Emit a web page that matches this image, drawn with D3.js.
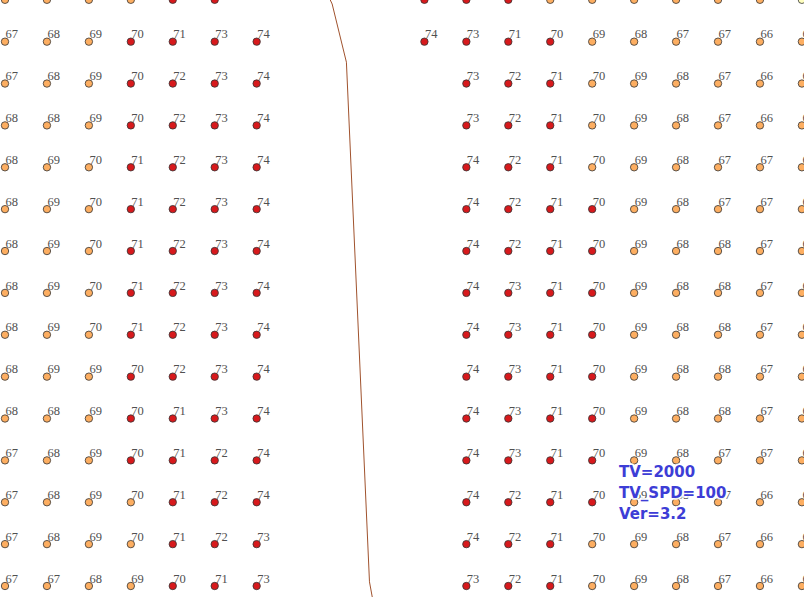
<!DOCTYPE html>
<html>
<head>
<meta charset="utf-8">
<script src="https://cdn.jsdelivr.net/npm/d3@7"></script>
<style>
  html, body { margin: 0; padding: 0; background: #fff; overflow: hidden; }
  svg { display: block; }
</style>
</head>
<body>
<div id="map"></div>
<script>
// grid values, one array per row; null = no station
// left block: columns 0..6
const leftRows = [
  [67, 68, 69, 69.6, 71, 72, null],
  [67, 68, 69, 70.2, 71, 73, 74],
  [67, 68, 69, 70.2, 72, 73, 74],
  [68, 68, 69, 70.2, 72, 73, 74],
  [68, 69, 69.8, 71, 72, 73, 74],
  [68, 69, 69.8, 71, 72, 73, 74],
  [68, 69, 69.8, 71, 72, 73, 74],
  [68, 69, 69.8, 71, 72, 73, 74],
  [68, 69, 69.8, 71, 72, 73, 74],
  [68, 69, 69, 70.2, 72, 73, 74],
  [68, 68, 69, 70.2, 71, 73, 74],
  [67, 68, 69, 70.2, 71, 72, 74],
  [67, 68, 69, 69.8, 71, 72, 74],
  [67, 68, 69, 69.8, 71, 72, 73],
  [67, 67, 68, 69, 70.2, 71, 73]
];
// right block: columns 10..19
const rightRows = [
  [74, 73, 71, 69.7, 69, 68, 67, 67, 66, 64.8],
  [74, 73, 71, 70.2, 69, 68, 67, 67, 66, 66],
  [null, 73, 72, 71, 69.8, 69, 68, 67, 66, 66],
  [null, 73, 72, 71, 69.8, 69, 68, 67, 66, 66],
  [null, 74, 72, 71, 69.8, 69, 68, 67, 67, 66],
  [null, 74, 72, 71, 70.2, 69, 68, 67, 67, 66],
  [null, 74, 72, 71, 70.2, 69, 68, 68, 67, 66],
  [null, 74, 73, 71, 70.2, 69, 68, 68, 67, 66],
  [null, 74, 73, 71, 70.2, 69, 68, 68, 67, 66],
  [null, 74, 73, 71, 70.2, 69, 68, 68, 67, 66],
  [null, 74, 73, 71, 70.2, 69, 68, 68, 67, 66],
  [null, 74, 73, 71, 70.2, 69, 68, 67, 67, 66],
  [null, 74, 72, 71, 70.2, 69, 68, 67, 66, 66],
  [null, 74, 72, 71, 69.8, 69, 68, 67, 66, 66],
  [null, 73, 72, 71, 69.8, 69, 68, 67, 66, 66]
];
const leftStartCol = 0;
const rightStartCol = 10;

// class breaks
const classBreaks = [65, 70];
const classColors = ['#ffffbf', '#fdae61', '#d7191c'];

// boundary line, in grid units [col, row]
const boundary = [
  [7.72, -0.07], [7.80, 0.10], [8.14, 1.49], [8.69, 13.9], [8.77, 14.34]
];

// info block
const infoLines = ['TV=2000', 'TV_SPD=100', 'Ver=3.2'];

const W = 804, H = 597;

const x = d3.scaleLinear().domain([0, 19]).range([5, 801.9]);
const y = d3.scaleLinear().domain([0, 14]).range([-0.2, 586]);
const color = d3.scaleThreshold().domain(classBreaks).range(classColors);

const pts = [];
leftRows.forEach((row, r) => row.forEach((v, i) => {
  if (v != null) pts.push({ col: leftStartCol + i, row: r, v });
}));
rightRows.forEach((row, r) => row.forEach((v, i) => {
  if (v != null) pts.push({ col: rightStartCol + i, row: r, v });
}));

const svg = d3.select('#map').append('svg')
  .attr('width', W).attr('height', H);

// boundary
svg.append('path')
  .datum(boundary)
  .attr('fill', 'none')
  .attr('stroke', '#a0522d')
  .attr('stroke-width', 1)
  .attr('d', d3.line().x(d => x(d[0])).y(d => y(d[1])));

// stations
const g = svg.append('g');
g.selectAll('circle.pt').data(pts).join('circle')
  .attr('class', 'pt')
  .attr('cx', d => x(d.col))
  .attr('cy', d => y(d.row))
  .attr('r', 3.7)
  .attr('fill', d => color(d.v))
  .attr('stroke', '#333')
  .attr('stroke-width', 0.8);

g.selectAll('text.lbl').data(pts).join('text')
  .attr('class', 'lbl')
  .attr('x', d => x(d.col) + 0.5)
  .attr('y', d => y(d.row) - 3.3)
  .attr('font-family', '"Liberation Serif", serif')
  .attr('font-size', 12.5)
  .attr('fill', '#505050')
  .text(d => Math.round(d.v));

// info text with white halo
const info = svg.append('text')
  .attr('x', 619)
  .attr('y', 477)
  .attr('font-family', '"DejaVu Sans", sans-serif')
  .attr('font-weight', 'bold')
  .attr('font-size', 15)
  .attr('fill', '#3d3dd6')
  .attr('stroke', '#fff')
  .attr('stroke-opacity', 0.9)
  .attr('stroke-width', 3.5)
  .attr('stroke-linejoin', 'round')
  .attr('paint-order', 'stroke');
info.selectAll('tspan').data(infoLines).join('tspan')
  .attr('x', 619)
  .attr('dy', (d, i) => i === 0 ? 0 : 21)
  .text(d => d);
</script>
</body>
</html>
